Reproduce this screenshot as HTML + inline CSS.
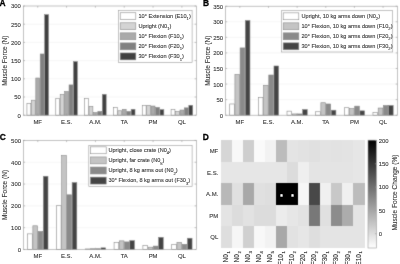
<!DOCTYPE html>
<html><head><meta charset="utf-8"><title>Figure</title>
<style>html,body{margin:0;padding:0;background:#fff;overflow:hidden}svg text{font-family:"Liberation Sans", sans-serif;stroke:#3c3c3c;stroke-width:0.12px}</style>
</head><body>
<svg width="400" height="264" viewBox="0 0 400 264" style="display:block">
<defs><filter id="soft" x="0" y="0" width="400" height="264" filterUnits="userSpaceOnUse" color-interpolation-filters="sRGB"><feConvolveMatrix order="3" kernelMatrix="0.02 0.08 0.02 0.08 0.60 0.08 0.02 0.08 0.02" edgeMode="duplicate" preserveAlpha="true"/></filter></defs>
<g filter="url(#soft)">
<rect x="-5" y="-5" width="410" height="274" fill="#fff"/>
<line x1="23.3" y1="97.00" x2="196.3" y2="97.00" stroke="#f0f0f0" stroke-width="0.6"/>
<line x1="23.3" y1="78.80" x2="196.3" y2="78.80" stroke="#f0f0f0" stroke-width="0.6"/>
<line x1="23.3" y1="60.60" x2="196.3" y2="60.60" stroke="#f0f0f0" stroke-width="0.6"/>
<line x1="23.3" y1="42.40" x2="196.3" y2="42.40" stroke="#f0f0f0" stroke-width="0.6"/>
<line x1="23.3" y1="24.20" x2="196.3" y2="24.20" stroke="#f0f0f0" stroke-width="0.6"/>
<rect x="26.93" y="103.49" width="3.84" height="11.71" fill="#ffffff" stroke="#8a8a8a" stroke-width="0.6"/>
<rect x="31.36" y="100.21" width="3.84" height="14.99" fill="#d4d4d4" stroke="#8a8a8a" stroke-width="0.6"/>
<rect x="35.80" y="78.01" width="3.84" height="37.19" fill="#aaaaaa" stroke="#8a8a8a" stroke-width="0.6"/>
<rect x="40.23" y="53.98" width="3.84" height="61.22" fill="#808080" stroke="#8a8a8a" stroke-width="0.6"/>
<rect x="44.67" y="14.67" width="3.84" height="100.53" fill="#404040" stroke="#8a8a8a" stroke-width="0.6"/>
<rect x="55.76" y="98.39" width="3.84" height="16.81" fill="#ffffff" stroke="#8a8a8a" stroke-width="0.6"/>
<rect x="60.20" y="94.39" width="3.84" height="20.81" fill="#d4d4d4" stroke="#8a8a8a" stroke-width="0.6"/>
<rect x="64.63" y="91.48" width="3.84" height="23.72" fill="#aaaaaa" stroke="#8a8a8a" stroke-width="0.6"/>
<rect x="69.07" y="84.92" width="3.84" height="30.28" fill="#808080" stroke="#8a8a8a" stroke-width="0.6"/>
<rect x="73.50" y="61.63" width="3.84" height="53.57" fill="#404040" stroke="#8a8a8a" stroke-width="0.6"/>
<rect x="84.59" y="98.39" width="3.84" height="16.81" fill="#ffffff" stroke="#8a8a8a" stroke-width="0.6"/>
<rect x="89.03" y="106.40" width="3.84" height="8.80" fill="#d4d4d4" stroke="#8a8a8a" stroke-width="0.6"/>
<rect x="93.47" y="112.59" width="3.84" height="2.61" fill="#aaaaaa" stroke="#8a8a8a" stroke-width="0.6"/>
<rect x="97.90" y="111.50" width="3.84" height="3.70" fill="#808080" stroke="#8a8a8a" stroke-width="0.6"/>
<rect x="102.34" y="94.39" width="3.84" height="20.81" fill="#404040" stroke="#8a8a8a" stroke-width="0.6"/>
<rect x="113.43" y="107.49" width="3.84" height="7.71" fill="#ffffff" stroke="#8a8a8a" stroke-width="0.6"/>
<rect x="117.86" y="110.77" width="3.84" height="4.43" fill="#d4d4d4" stroke="#8a8a8a" stroke-width="0.6"/>
<rect x="122.30" y="109.31" width="3.84" height="5.89" fill="#aaaaaa" stroke="#8a8a8a" stroke-width="0.6"/>
<rect x="126.73" y="111.50" width="3.84" height="3.70" fill="#808080" stroke="#8a8a8a" stroke-width="0.6"/>
<rect x="131.17" y="109.31" width="3.84" height="5.89" fill="#404040" stroke="#8a8a8a" stroke-width="0.6"/>
<rect x="142.26" y="105.67" width="3.84" height="9.53" fill="#ffffff" stroke="#8a8a8a" stroke-width="0.6"/>
<rect x="146.70" y="105.31" width="3.84" height="9.89" fill="#d4d4d4" stroke="#8a8a8a" stroke-width="0.6"/>
<rect x="151.13" y="106.04" width="3.84" height="9.16" fill="#aaaaaa" stroke="#8a8a8a" stroke-width="0.6"/>
<rect x="155.57" y="107.49" width="3.84" height="7.71" fill="#808080" stroke="#8a8a8a" stroke-width="0.6"/>
<rect x="160.00" y="109.68" width="3.84" height="5.52" fill="#404040" stroke="#8a8a8a" stroke-width="0.6"/>
<rect x="171.09" y="109.68" width="3.84" height="5.52" fill="#ffffff" stroke="#8a8a8a" stroke-width="0.6"/>
<rect x="175.53" y="111.50" width="3.84" height="3.70" fill="#d4d4d4" stroke="#8a8a8a" stroke-width="0.6"/>
<rect x="179.97" y="110.04" width="3.84" height="5.16" fill="#aaaaaa" stroke="#8a8a8a" stroke-width="0.6"/>
<rect x="184.40" y="107.86" width="3.84" height="7.34" fill="#808080" stroke="#8a8a8a" stroke-width="0.6"/>
<rect x="188.84" y="105.31" width="3.84" height="9.89" fill="#404040" stroke="#8a8a8a" stroke-width="0.6"/>
<rect x="23.3" y="6.0" width="173.0" height="109.2" fill="none" stroke="#9a9a9a" stroke-width="0.6"/>
<line x1="23.3" y1="115.20" x2="25.0" y2="115.20" stroke="#9a9a9a" stroke-width="0.6"/>
<line x1="196.3" y1="115.20" x2="194.60000000000002" y2="115.20" stroke="#9a9a9a" stroke-width="0.6"/>
<line x1="23.3" y1="97.00" x2="25.0" y2="97.00" stroke="#9a9a9a" stroke-width="0.6"/>
<line x1="196.3" y1="97.00" x2="194.60000000000002" y2="97.00" stroke="#9a9a9a" stroke-width="0.6"/>
<line x1="23.3" y1="78.80" x2="25.0" y2="78.80" stroke="#9a9a9a" stroke-width="0.6"/>
<line x1="196.3" y1="78.80" x2="194.60000000000002" y2="78.80" stroke="#9a9a9a" stroke-width="0.6"/>
<line x1="23.3" y1="60.60" x2="25.0" y2="60.60" stroke="#9a9a9a" stroke-width="0.6"/>
<line x1="196.3" y1="60.60" x2="194.60000000000002" y2="60.60" stroke="#9a9a9a" stroke-width="0.6"/>
<line x1="23.3" y1="42.40" x2="25.0" y2="42.40" stroke="#9a9a9a" stroke-width="0.6"/>
<line x1="196.3" y1="42.40" x2="194.60000000000002" y2="42.40" stroke="#9a9a9a" stroke-width="0.6"/>
<line x1="23.3" y1="24.20" x2="25.0" y2="24.20" stroke="#9a9a9a" stroke-width="0.6"/>
<line x1="196.3" y1="24.20" x2="194.60000000000002" y2="24.20" stroke="#9a9a9a" stroke-width="0.6"/>
<line x1="23.3" y1="6.00" x2="25.0" y2="6.00" stroke="#9a9a9a" stroke-width="0.6"/>
<line x1="196.3" y1="6.00" x2="194.60000000000002" y2="6.00" stroke="#9a9a9a" stroke-width="0.6"/>
<line x1="37.72" y1="115.2" x2="37.72" y2="113.5" stroke="#9a9a9a" stroke-width="0.6"/>
<line x1="37.72" y1="6.0" x2="37.72" y2="7.7" stroke="#9a9a9a" stroke-width="0.6"/>
<line x1="66.55" y1="115.2" x2="66.55" y2="113.5" stroke="#9a9a9a" stroke-width="0.6"/>
<line x1="66.55" y1="6.0" x2="66.55" y2="7.7" stroke="#9a9a9a" stroke-width="0.6"/>
<line x1="95.38" y1="115.2" x2="95.38" y2="113.5" stroke="#9a9a9a" stroke-width="0.6"/>
<line x1="95.38" y1="6.0" x2="95.38" y2="7.7" stroke="#9a9a9a" stroke-width="0.6"/>
<line x1="124.22" y1="115.2" x2="124.22" y2="113.5" stroke="#9a9a9a" stroke-width="0.6"/>
<line x1="124.22" y1="6.0" x2="124.22" y2="7.7" stroke="#9a9a9a" stroke-width="0.6"/>
<line x1="153.05" y1="115.2" x2="153.05" y2="113.5" stroke="#9a9a9a" stroke-width="0.6"/>
<line x1="153.05" y1="6.0" x2="153.05" y2="7.7" stroke="#9a9a9a" stroke-width="0.6"/>
<line x1="181.88" y1="115.2" x2="181.88" y2="113.5" stroke="#9a9a9a" stroke-width="0.6"/>
<line x1="181.88" y1="6.0" x2="181.88" y2="7.7" stroke="#9a9a9a" stroke-width="0.6"/>
<rect x="118.5" y="10.5" width="73.6" height="51.9" fill="#fff" stroke="#9c9c9c" stroke-width="0.6"/>
<rect x="120.2" y="12.75" width="15.60" height="6.9" fill="#ffffff" stroke="#8a8a8a" stroke-width="0.6"/>
<rect x="120.2" y="22.80" width="15.60" height="6.9" fill="#d4d4d4" stroke="#8a8a8a" stroke-width="0.6"/>
<rect x="120.2" y="32.85" width="15.60" height="6.9" fill="#aaaaaa" stroke="#8a8a8a" stroke-width="0.6"/>
<rect x="120.2" y="42.90" width="15.60" height="6.9" fill="#808080" stroke="#8a8a8a" stroke-width="0.6"/>
<rect x="120.2" y="52.95" width="15.60" height="6.9" fill="#404040" stroke="#8a8a8a" stroke-width="0.6"/>
<line x1="225.5" y1="99.63" x2="397.4" y2="99.63" stroke="#f0f0f0" stroke-width="0.6"/>
<line x1="225.5" y1="84.06" x2="397.4" y2="84.06" stroke="#f0f0f0" stroke-width="0.6"/>
<line x1="225.5" y1="68.49" x2="397.4" y2="68.49" stroke="#f0f0f0" stroke-width="0.6"/>
<line x1="225.5" y1="52.91" x2="397.4" y2="52.91" stroke="#f0f0f0" stroke-width="0.6"/>
<line x1="225.5" y1="37.34" x2="397.4" y2="37.34" stroke="#f0f0f0" stroke-width="0.6"/>
<line x1="225.5" y1="21.77" x2="397.4" y2="21.77" stroke="#f0f0f0" stroke-width="0.6"/>
<rect x="229.71" y="103.98" width="4.61" height="11.22" fill="#ffffff" stroke="#8a8a8a" stroke-width="0.6"/>
<rect x="234.92" y="74.39" width="4.61" height="40.81" fill="#c4c4c4" stroke="#8a8a8a" stroke-width="0.6"/>
<rect x="240.12" y="47.92" width="4.61" height="67.28" fill="#8a8a8a" stroke="#8a8a8a" stroke-width="0.6"/>
<rect x="245.33" y="20.51" width="4.61" height="94.69" fill="#444444" stroke="#8a8a8a" stroke-width="0.6"/>
<rect x="258.36" y="97.44" width="4.61" height="17.76" fill="#ffffff" stroke="#8a8a8a" stroke-width="0.6"/>
<rect x="263.57" y="85.29" width="4.61" height="29.91" fill="#c4c4c4" stroke="#8a8a8a" stroke-width="0.6"/>
<rect x="268.78" y="75.01" width="4.61" height="40.19" fill="#8a8a8a" stroke="#8a8a8a" stroke-width="0.6"/>
<rect x="273.98" y="65.98" width="4.61" height="49.22" fill="#444444" stroke="#8a8a8a" stroke-width="0.6"/>
<rect x="287.01" y="111.14" width="4.61" height="4.06" fill="#ffffff" stroke="#8a8a8a" stroke-width="0.6"/>
<rect x="292.22" y="113.94" width="4.61" height="1.26" fill="#c4c4c4" stroke="#8a8a8a" stroke-width="0.6"/>
<rect x="297.43" y="113.94" width="4.61" height="1.26" fill="#8a8a8a" stroke="#8a8a8a" stroke-width="0.6"/>
<rect x="302.63" y="109.58" width="4.61" height="5.62" fill="#444444" stroke="#8a8a8a" stroke-width="0.6"/>
<rect x="315.66" y="111.76" width="4.61" height="3.44" fill="#ffffff" stroke="#8a8a8a" stroke-width="0.6"/>
<rect x="320.87" y="102.73" width="4.61" height="12.47" fill="#c4c4c4" stroke="#8a8a8a" stroke-width="0.6"/>
<rect x="326.07" y="103.98" width="4.61" height="11.22" fill="#8a8a8a" stroke="#8a8a8a" stroke-width="0.6"/>
<rect x="331.28" y="110.21" width="4.61" height="4.99" fill="#444444" stroke="#8a8a8a" stroke-width="0.6"/>
<rect x="344.31" y="107.71" width="4.61" height="7.49" fill="#ffffff" stroke="#8a8a8a" stroke-width="0.6"/>
<rect x="349.52" y="108.65" width="4.61" height="6.55" fill="#c4c4c4" stroke="#8a8a8a" stroke-width="0.6"/>
<rect x="354.72" y="106.16" width="4.61" height="9.04" fill="#8a8a8a" stroke="#8a8a8a" stroke-width="0.6"/>
<rect x="359.93" y="110.83" width="4.61" height="4.37" fill="#444444" stroke="#8a8a8a" stroke-width="0.6"/>
<rect x="372.96" y="112.54" width="4.61" height="2.66" fill="#ffffff" stroke="#8a8a8a" stroke-width="0.6"/>
<rect x="378.17" y="108.03" width="4.61" height="7.17" fill="#c4c4c4" stroke="#8a8a8a" stroke-width="0.6"/>
<rect x="383.37" y="105.53" width="4.61" height="9.67" fill="#8a8a8a" stroke="#8a8a8a" stroke-width="0.6"/>
<rect x="388.58" y="105.53" width="4.61" height="9.67" fill="#444444" stroke="#8a8a8a" stroke-width="0.6"/>
<rect x="225.5" y="6.2" width="171.89999999999998" height="109.0" fill="none" stroke="#9a9a9a" stroke-width="0.6"/>
<line x1="225.5" y1="115.20" x2="227.2" y2="115.20" stroke="#9a9a9a" stroke-width="0.6"/>
<line x1="397.4" y1="115.20" x2="395.7" y2="115.20" stroke="#9a9a9a" stroke-width="0.6"/>
<line x1="225.5" y1="99.63" x2="227.2" y2="99.63" stroke="#9a9a9a" stroke-width="0.6"/>
<line x1="397.4" y1="99.63" x2="395.7" y2="99.63" stroke="#9a9a9a" stroke-width="0.6"/>
<line x1="225.5" y1="84.06" x2="227.2" y2="84.06" stroke="#9a9a9a" stroke-width="0.6"/>
<line x1="397.4" y1="84.06" x2="395.7" y2="84.06" stroke="#9a9a9a" stroke-width="0.6"/>
<line x1="225.5" y1="68.49" x2="227.2" y2="68.49" stroke="#9a9a9a" stroke-width="0.6"/>
<line x1="397.4" y1="68.49" x2="395.7" y2="68.49" stroke="#9a9a9a" stroke-width="0.6"/>
<line x1="225.5" y1="52.91" x2="227.2" y2="52.91" stroke="#9a9a9a" stroke-width="0.6"/>
<line x1="397.4" y1="52.91" x2="395.7" y2="52.91" stroke="#9a9a9a" stroke-width="0.6"/>
<line x1="225.5" y1="37.34" x2="227.2" y2="37.34" stroke="#9a9a9a" stroke-width="0.6"/>
<line x1="397.4" y1="37.34" x2="395.7" y2="37.34" stroke="#9a9a9a" stroke-width="0.6"/>
<line x1="225.5" y1="21.77" x2="227.2" y2="21.77" stroke="#9a9a9a" stroke-width="0.6"/>
<line x1="397.4" y1="21.77" x2="395.7" y2="21.77" stroke="#9a9a9a" stroke-width="0.6"/>
<line x1="225.5" y1="6.20" x2="227.2" y2="6.20" stroke="#9a9a9a" stroke-width="0.6"/>
<line x1="397.4" y1="6.20" x2="395.7" y2="6.20" stroke="#9a9a9a" stroke-width="0.6"/>
<line x1="239.82" y1="115.2" x2="239.82" y2="113.5" stroke="#9a9a9a" stroke-width="0.6"/>
<line x1="239.82" y1="6.2" x2="239.82" y2="7.9" stroke="#9a9a9a" stroke-width="0.6"/>
<line x1="268.48" y1="115.2" x2="268.48" y2="113.5" stroke="#9a9a9a" stroke-width="0.6"/>
<line x1="268.48" y1="6.2" x2="268.48" y2="7.9" stroke="#9a9a9a" stroke-width="0.6"/>
<line x1="297.12" y1="115.2" x2="297.12" y2="113.5" stroke="#9a9a9a" stroke-width="0.6"/>
<line x1="297.12" y1="6.2" x2="297.12" y2="7.9" stroke="#9a9a9a" stroke-width="0.6"/>
<line x1="325.77" y1="115.2" x2="325.77" y2="113.5" stroke="#9a9a9a" stroke-width="0.6"/>
<line x1="325.77" y1="6.2" x2="325.77" y2="7.9" stroke="#9a9a9a" stroke-width="0.6"/>
<line x1="354.42" y1="115.2" x2="354.42" y2="113.5" stroke="#9a9a9a" stroke-width="0.6"/>
<line x1="354.42" y1="6.2" x2="354.42" y2="7.9" stroke="#9a9a9a" stroke-width="0.6"/>
<line x1="383.07" y1="115.2" x2="383.07" y2="113.5" stroke="#9a9a9a" stroke-width="0.6"/>
<line x1="383.07" y1="6.2" x2="383.07" y2="7.9" stroke="#9a9a9a" stroke-width="0.6"/>
<rect x="281.5" y="10.7" width="111.19999999999999" height="41.3" fill="#fff" stroke="#9c9c9c" stroke-width="0.6"/>
<rect x="283.2" y="12.85" width="15.60" height="6.9" fill="#ffffff" stroke="#8a8a8a" stroke-width="0.6"/>
<rect x="283.2" y="22.85" width="15.60" height="6.9" fill="#c4c4c4" stroke="#8a8a8a" stroke-width="0.6"/>
<rect x="283.2" y="32.85" width="15.60" height="6.9" fill="#8a8a8a" stroke="#8a8a8a" stroke-width="0.6"/>
<rect x="283.2" y="42.85" width="15.60" height="6.9" fill="#444444" stroke="#8a8a8a" stroke-width="0.6"/>
<line x1="23.4" y1="227.68" x2="196.3" y2="227.68" stroke="#f0f0f0" stroke-width="0.6"/>
<line x1="23.4" y1="205.86" x2="196.3" y2="205.86" stroke="#f0f0f0" stroke-width="0.6"/>
<line x1="23.4" y1="184.04" x2="196.3" y2="184.04" stroke="#f0f0f0" stroke-width="0.6"/>
<line x1="23.4" y1="162.22" x2="196.3" y2="162.22" stroke="#f0f0f0" stroke-width="0.6"/>
<rect x="27.63" y="233.87" width="4.64" height="15.63" fill="#ffffff" stroke="#8a8a8a" stroke-width="0.6"/>
<rect x="32.87" y="225.80" width="4.64" height="23.70" fill="#c4c4c4" stroke="#8a8a8a" stroke-width="0.6"/>
<rect x="38.11" y="231.47" width="4.64" height="18.03" fill="#8a8a8a" stroke="#8a8a8a" stroke-width="0.6"/>
<rect x="43.35" y="176.27" width="4.64" height="73.23" fill="#444444" stroke="#8a8a8a" stroke-width="0.6"/>
<rect x="56.45" y="205.72" width="4.64" height="43.78" fill="#ffffff" stroke="#8a8a8a" stroke-width="0.6"/>
<rect x="61.69" y="155.54" width="4.64" height="93.96" fill="#c4c4c4" stroke="#8a8a8a" stroke-width="0.6"/>
<rect x="66.92" y="194.81" width="4.64" height="54.69" fill="#8a8a8a" stroke="#8a8a8a" stroke-width="0.6"/>
<rect x="72.16" y="182.59" width="4.64" height="66.91" fill="#444444" stroke="#8a8a8a" stroke-width="0.6"/>
<rect x="85.26" y="248.93" width="4.64" height="0.57" fill="#ffffff" stroke="#8a8a8a" stroke-width="0.6"/>
<rect x="90.50" y="248.71" width="4.64" height="0.79" fill="#c4c4c4" stroke="#8a8a8a" stroke-width="0.6"/>
<rect x="95.74" y="248.71" width="4.64" height="0.79" fill="#8a8a8a" stroke="#8a8a8a" stroke-width="0.6"/>
<rect x="100.98" y="247.84" width="4.64" height="1.66" fill="#444444" stroke="#8a8a8a" stroke-width="0.6"/>
<rect x="114.08" y="242.60" width="4.64" height="6.90" fill="#ffffff" stroke="#8a8a8a" stroke-width="0.6"/>
<rect x="119.32" y="240.85" width="4.64" height="8.65" fill="#c4c4c4" stroke="#8a8a8a" stroke-width="0.6"/>
<rect x="124.56" y="241.94" width="4.64" height="7.56" fill="#8a8a8a" stroke="#8a8a8a" stroke-width="0.6"/>
<rect x="129.80" y="240.64" width="4.64" height="8.86" fill="#444444" stroke="#8a8a8a" stroke-width="0.6"/>
<rect x="142.90" y="245.65" width="4.64" height="3.85" fill="#ffffff" stroke="#8a8a8a" stroke-width="0.6"/>
<rect x="148.14" y="247.18" width="4.64" height="2.32" fill="#c4c4c4" stroke="#8a8a8a" stroke-width="0.6"/>
<rect x="153.38" y="246.09" width="4.64" height="3.41" fill="#8a8a8a" stroke="#8a8a8a" stroke-width="0.6"/>
<rect x="158.61" y="237.36" width="4.64" height="12.14" fill="#444444" stroke="#8a8a8a" stroke-width="0.6"/>
<rect x="171.71" y="244.56" width="4.64" height="4.94" fill="#ffffff" stroke="#8a8a8a" stroke-width="0.6"/>
<rect x="176.95" y="242.38" width="4.64" height="7.12" fill="#c4c4c4" stroke="#8a8a8a" stroke-width="0.6"/>
<rect x="182.19" y="244.34" width="4.64" height="5.16" fill="#8a8a8a" stroke="#8a8a8a" stroke-width="0.6"/>
<rect x="187.43" y="238.24" width="4.64" height="11.26" fill="#444444" stroke="#8a8a8a" stroke-width="0.6"/>
<rect x="23.4" y="140.4" width="172.9" height="109.1" fill="none" stroke="#9a9a9a" stroke-width="0.6"/>
<line x1="23.4" y1="249.50" x2="25.099999999999998" y2="249.50" stroke="#9a9a9a" stroke-width="0.6"/>
<line x1="196.3" y1="249.50" x2="194.60000000000002" y2="249.50" stroke="#9a9a9a" stroke-width="0.6"/>
<line x1="23.4" y1="227.68" x2="25.099999999999998" y2="227.68" stroke="#9a9a9a" stroke-width="0.6"/>
<line x1="196.3" y1="227.68" x2="194.60000000000002" y2="227.68" stroke="#9a9a9a" stroke-width="0.6"/>
<line x1="23.4" y1="205.86" x2="25.099999999999998" y2="205.86" stroke="#9a9a9a" stroke-width="0.6"/>
<line x1="196.3" y1="205.86" x2="194.60000000000002" y2="205.86" stroke="#9a9a9a" stroke-width="0.6"/>
<line x1="23.4" y1="184.04" x2="25.099999999999998" y2="184.04" stroke="#9a9a9a" stroke-width="0.6"/>
<line x1="196.3" y1="184.04" x2="194.60000000000002" y2="184.04" stroke="#9a9a9a" stroke-width="0.6"/>
<line x1="23.4" y1="162.22" x2="25.099999999999998" y2="162.22" stroke="#9a9a9a" stroke-width="0.6"/>
<line x1="196.3" y1="162.22" x2="194.60000000000002" y2="162.22" stroke="#9a9a9a" stroke-width="0.6"/>
<line x1="23.4" y1="140.40" x2="25.099999999999998" y2="140.40" stroke="#9a9a9a" stroke-width="0.6"/>
<line x1="196.3" y1="140.40" x2="194.60000000000002" y2="140.40" stroke="#9a9a9a" stroke-width="0.6"/>
<line x1="37.81" y1="249.5" x2="37.81" y2="247.8" stroke="#9a9a9a" stroke-width="0.6"/>
<line x1="37.81" y1="140.4" x2="37.81" y2="142.1" stroke="#9a9a9a" stroke-width="0.6"/>
<line x1="66.62" y1="249.5" x2="66.62" y2="247.8" stroke="#9a9a9a" stroke-width="0.6"/>
<line x1="66.62" y1="140.4" x2="66.62" y2="142.1" stroke="#9a9a9a" stroke-width="0.6"/>
<line x1="95.44" y1="249.5" x2="95.44" y2="247.8" stroke="#9a9a9a" stroke-width="0.6"/>
<line x1="95.44" y1="140.4" x2="95.44" y2="142.1" stroke="#9a9a9a" stroke-width="0.6"/>
<line x1="124.26" y1="249.5" x2="124.26" y2="247.8" stroke="#9a9a9a" stroke-width="0.6"/>
<line x1="124.26" y1="140.4" x2="124.26" y2="142.1" stroke="#9a9a9a" stroke-width="0.6"/>
<line x1="153.08" y1="249.5" x2="153.08" y2="247.8" stroke="#9a9a9a" stroke-width="0.6"/>
<line x1="153.08" y1="140.4" x2="153.08" y2="142.1" stroke="#9a9a9a" stroke-width="0.6"/>
<line x1="181.89" y1="249.5" x2="181.89" y2="247.8" stroke="#9a9a9a" stroke-width="0.6"/>
<line x1="181.89" y1="140.4" x2="181.89" y2="142.1" stroke="#9a9a9a" stroke-width="0.6"/>
<rect x="88.8" y="145.3" width="103.3" height="41.099999999999994" fill="#fff" stroke="#9c9c9c" stroke-width="0.6"/>
<rect x="90.5" y="146.85" width="15.70" height="6.9" fill="#ffffff" stroke="#8a8a8a" stroke-width="0.6"/>
<rect x="90.5" y="156.95" width="15.70" height="6.9" fill="#c4c4c4" stroke="#8a8a8a" stroke-width="0.6"/>
<rect x="90.5" y="167.05" width="15.70" height="6.9" fill="#8a8a8a" stroke="#8a8a8a" stroke-width="0.6"/>
<rect x="90.5" y="177.15" width="15.70" height="6.9" fill="#444444" stroke="#8a8a8a" stroke-width="0.6"/>
<g shape-rendering="crispEdges">
<rect x="220.65" y="140.15" width="11.67" height="22.17" fill="rgb(214,214,214)"/>
<rect x="231.72" y="140.15" width="11.67" height="22.17" fill="rgb(248,248,248)"/>
<rect x="242.78" y="140.15" width="11.67" height="22.17" fill="rgb(206,206,206)"/>
<rect x="253.85" y="140.15" width="11.67" height="22.17" fill="rgb(250,250,250)"/>
<rect x="264.91" y="140.15" width="11.67" height="22.17" fill="rgb(242,242,242)"/>
<rect x="275.98" y="140.15" width="11.67" height="22.17" fill="rgb(188,188,188)"/>
<rect x="287.04" y="140.15" width="11.67" height="22.17" fill="rgb(228,228,228)"/>
<rect x="298.11" y="140.15" width="11.67" height="22.17" fill="rgb(226,226,226)"/>
<rect x="309.17" y="140.15" width="11.67" height="22.17" fill="rgb(224,224,224)"/>
<rect x="320.24" y="140.15" width="11.67" height="22.17" fill="rgb(227,227,227)"/>
<rect x="331.30" y="140.15" width="11.67" height="22.17" fill="rgb(226,226,226)"/>
<rect x="342.37" y="140.15" width="11.67" height="22.17" fill="rgb(227,227,227)"/>
<rect x="353.43" y="140.15" width="11.07" height="22.17" fill="rgb(230,230,230)"/>
<rect x="220.65" y="161.72" width="11.67" height="22.17" fill="rgb(230,230,230)"/>
<rect x="231.72" y="161.72" width="11.67" height="22.17" fill="rgb(230,230,230)"/>
<rect x="242.78" y="161.72" width="11.67" height="22.17" fill="rgb(230,230,230)"/>
<rect x="253.85" y="161.72" width="11.67" height="22.17" fill="rgb(230,230,230)"/>
<rect x="264.91" y="161.72" width="11.67" height="22.17" fill="rgb(230,230,230)"/>
<rect x="275.98" y="161.72" width="11.67" height="22.17" fill="rgb(230,230,230)"/>
<rect x="287.04" y="161.72" width="11.67" height="22.17" fill="rgb(220,220,220)"/>
<rect x="298.11" y="161.72" width="11.67" height="22.17" fill="rgb(239,239,239)"/>
<rect x="309.17" y="161.72" width="11.67" height="22.17" fill="rgb(228,228,228)"/>
<rect x="320.24" y="161.72" width="11.67" height="22.17" fill="rgb(228,228,228)"/>
<rect x="331.30" y="161.72" width="11.67" height="22.17" fill="rgb(228,228,228)"/>
<rect x="342.37" y="161.72" width="11.67" height="22.17" fill="rgb(228,228,228)"/>
<rect x="353.43" y="161.72" width="11.07" height="22.17" fill="rgb(230,230,230)"/>
<rect x="220.65" y="183.29" width="11.67" height="22.17" fill="rgb(184,184,184)"/>
<rect x="231.72" y="183.29" width="11.67" height="22.17" fill="rgb(224,224,224)"/>
<rect x="242.78" y="183.29" width="11.67" height="22.17" fill="rgb(168,168,168)"/>
<rect x="253.85" y="183.29" width="11.67" height="22.17" fill="rgb(224,224,224)"/>
<rect x="264.91" y="183.29" width="11.67" height="22.17" fill="rgb(222,222,222)"/>
<rect x="275.98" y="183.29" width="11.67" height="22.17" fill="rgb(0,0,0)"/>
<rect x="287.04" y="183.29" width="11.67" height="22.17" fill="rgb(0,0,0)"/>
<rect x="298.11" y="183.29" width="11.67" height="22.17" fill="rgb(246,246,246)"/>
<rect x="309.17" y="183.29" width="11.67" height="22.17" fill="rgb(72,72,72)"/>
<rect x="320.24" y="183.29" width="11.67" height="22.17" fill="rgb(240,240,240)"/>
<rect x="331.30" y="183.29" width="11.67" height="22.17" fill="rgb(200,200,200)"/>
<rect x="342.37" y="183.29" width="11.67" height="22.17" fill="rgb(240,240,240)"/>
<rect x="353.43" y="183.29" width="11.07" height="22.17" fill="rgb(188,188,188)"/>
<rect x="220.65" y="204.86" width="11.67" height="22.17" fill="rgb(228,228,228)"/>
<rect x="231.72" y="204.86" width="11.67" height="22.17" fill="rgb(220,220,220)"/>
<rect x="242.78" y="204.86" width="11.67" height="22.17" fill="rgb(226,226,226)"/>
<rect x="253.85" y="204.86" width="11.67" height="22.17" fill="rgb(220,220,220)"/>
<rect x="264.91" y="204.86" width="11.67" height="22.17" fill="rgb(220,220,220)"/>
<rect x="275.98" y="204.86" width="11.67" height="22.17" fill="rgb(236,236,236)"/>
<rect x="287.04" y="204.86" width="11.67" height="22.17" fill="rgb(230,230,230)"/>
<rect x="298.11" y="204.86" width="11.67" height="22.17" fill="rgb(226,226,226)"/>
<rect x="309.17" y="204.86" width="11.67" height="22.17" fill="rgb(120,120,120)"/>
<rect x="320.24" y="204.86" width="11.67" height="22.17" fill="rgb(224,224,224)"/>
<rect x="331.30" y="204.86" width="11.67" height="22.17" fill="rgb(140,140,140)"/>
<rect x="342.37" y="204.86" width="11.67" height="22.17" fill="rgb(172,172,172)"/>
<rect x="353.43" y="204.86" width="11.07" height="22.17" fill="rgb(228,228,228)"/>
<rect x="220.65" y="226.43" width="11.67" height="21.57" fill="rgb(222,222,222)"/>
<rect x="231.72" y="226.43" width="11.67" height="21.57" fill="rgb(246,246,246)"/>
<rect x="242.78" y="226.43" width="11.67" height="21.57" fill="rgb(208,208,208)"/>
<rect x="253.85" y="226.43" width="11.67" height="21.57" fill="rgb(248,248,248)"/>
<rect x="264.91" y="226.43" width="11.67" height="21.57" fill="rgb(242,242,242)"/>
<rect x="275.98" y="226.43" width="11.67" height="21.57" fill="rgb(168,168,168)"/>
<rect x="287.04" y="226.43" width="11.67" height="21.57" fill="rgb(226,226,226)"/>
<rect x="298.11" y="226.43" width="11.67" height="21.57" fill="rgb(230,230,230)"/>
<rect x="309.17" y="226.43" width="11.67" height="21.57" fill="rgb(222,222,222)"/>
<rect x="320.24" y="226.43" width="11.67" height="21.57" fill="rgb(228,228,228)"/>
<rect x="331.30" y="226.43" width="11.67" height="21.57" fill="rgb(228,228,228)"/>
<rect x="342.37" y="226.43" width="11.67" height="21.57" fill="rgb(228,228,228)"/>
<rect x="353.43" y="226.43" width="11.07" height="21.57" fill="rgb(228,228,228)"/>
</g>
<defs><linearGradient id="cb" x1="0" y1="0" x2="0" y2="1"><stop offset="0" stop-color="#000"/><stop offset="1" stop-color="#fff"/></linearGradient></defs>
<rect x="368.0" y="140.15" width="8.40" height="107.85" fill="url(#cb)" stroke="#9a9a9a" stroke-width="0.6"/>
<line x1="376.4" y1="233.70" x2="374.9" y2="233.70" stroke="#9a9a9a" stroke-width="0.6"/>
<line x1="376.4" y1="210.40" x2="374.9" y2="210.40" stroke="#9a9a9a" stroke-width="0.6"/>
<line x1="376.4" y1="187.10" x2="374.9" y2="187.10" stroke="#9a9a9a" stroke-width="0.6"/>
<line x1="376.4" y1="163.80" x2="374.9" y2="163.80" stroke="#9a9a9a" stroke-width="0.6"/>
<line x1="376.4" y1="140.50" x2="374.9" y2="140.50" stroke="#9a9a9a" stroke-width="0.6"/>
</g>
<g>
<text x="-0.4" y="5.5" font-size="8.4" font-weight="bold" fill="#000" style="stroke:#000;stroke-width:0.3px">A</text>
<text x="37.72" y="123.70" font-size="5.95" text-anchor="middle" fill="#3c3c3c">MF</text>
<text x="66.55" y="123.70" font-size="5.95" text-anchor="middle" fill="#3c3c3c">E.S.</text>
<text x="95.38" y="123.70" font-size="5.95" text-anchor="middle" fill="#3c3c3c">A.M.</text>
<text x="124.22" y="123.70" font-size="5.95" text-anchor="middle" fill="#3c3c3c">TA</text>
<text x="153.05" y="123.70" font-size="5.95" text-anchor="middle" fill="#3c3c3c">PM</text>
<text x="181.88" y="123.70" font-size="5.95" text-anchor="middle" fill="#3c3c3c">QL</text>
<text x="20.90" y="117.65" font-size="5.95" text-anchor="end" fill="#3c3c3c">0</text>
<text x="20.90" y="99.45" font-size="5.95" text-anchor="end" fill="#3c3c3c">50</text>
<text x="20.90" y="81.25" font-size="5.95" text-anchor="end" fill="#3c3c3c">100</text>
<text x="20.90" y="63.05" font-size="5.95" text-anchor="end" fill="#3c3c3c">150</text>
<text x="20.90" y="44.85" font-size="5.95" text-anchor="end" fill="#3c3c3c">200</text>
<text x="20.90" y="26.65" font-size="5.95" text-anchor="end" fill="#3c3c3c">250</text>
<text x="20.90" y="8.45" font-size="5.95" text-anchor="end" fill="#3c3c3c">300</text>
<text transform="translate(7.4,60.60) rotate(-90)" font-size="6.55" text-anchor="middle" fill="#3c3c3c">Muscle Force (N)</text>
<text x="138.4" y="17.60" font-size="5.63" fill="#3c3c3c">10° Extension (E10<tspan font-size="4.22" dy="2.7">1</tspan><tspan dy="-2.7">)</tspan></text>
<text x="138.4" y="27.65" font-size="5.63" fill="#3c3c3c">Upright (N0<tspan font-size="4.22" dy="2.7">1</tspan><tspan dy="-2.7">)</tspan></text>
<text x="138.4" y="37.70" font-size="5.63" fill="#3c3c3c">10° Flexion (F10<tspan font-size="4.22" dy="2.7">1</tspan><tspan dy="-2.7">)</tspan></text>
<text x="138.4" y="47.75" font-size="5.63" fill="#3c3c3c">20° Flexion (F20<tspan font-size="4.22" dy="2.7">1</tspan><tspan dy="-2.7">)</tspan></text>
<text x="138.4" y="57.80" font-size="5.63" fill="#3c3c3c">30° Flexion (F30<tspan font-size="4.22" dy="2.7">1</tspan><tspan dy="-2.7">)</tspan></text>
<text x="202.9" y="5.5" font-size="8.4" font-weight="bold" fill="#000" style="stroke:#000;stroke-width:0.3px">B</text>
<text x="239.82" y="123.70" font-size="5.95" text-anchor="middle" fill="#3c3c3c">MF</text>
<text x="268.48" y="123.70" font-size="5.95" text-anchor="middle" fill="#3c3c3c">E.S.</text>
<text x="297.12" y="123.70" font-size="5.95" text-anchor="middle" fill="#3c3c3c">A.M.</text>
<text x="325.77" y="123.70" font-size="5.95" text-anchor="middle" fill="#3c3c3c">TA</text>
<text x="354.42" y="123.70" font-size="5.95" text-anchor="middle" fill="#3c3c3c">PM</text>
<text x="383.07" y="123.70" font-size="5.95" text-anchor="middle" fill="#3c3c3c">QL</text>
<text x="223.10" y="117.65" font-size="5.95" text-anchor="end" fill="#3c3c3c">0</text>
<text x="223.10" y="102.08" font-size="5.95" text-anchor="end" fill="#3c3c3c">50</text>
<text x="223.10" y="86.51" font-size="5.95" text-anchor="end" fill="#3c3c3c">100</text>
<text x="223.10" y="70.94" font-size="5.95" text-anchor="end" fill="#3c3c3c">150</text>
<text x="223.10" y="55.36" font-size="5.95" text-anchor="end" fill="#3c3c3c">200</text>
<text x="223.10" y="39.79" font-size="5.95" text-anchor="end" fill="#3c3c3c">250</text>
<text x="223.10" y="24.22" font-size="5.95" text-anchor="end" fill="#3c3c3c">300</text>
<text x="223.10" y="8.65" font-size="5.95" text-anchor="end" fill="#3c3c3c">350</text>
<text transform="translate(210.2,60.70) rotate(-90)" font-size="6.55" text-anchor="middle" fill="#3c3c3c">Muscle Force (N)</text>
<text x="301.5" y="17.70" font-size="5.6" fill="#3c3c3c">Upright, 10 kg arms down (N0<tspan font-size="4.20" dy="2.7">2</tspan><tspan dy="-2.7">)</tspan></text>
<text x="301.5" y="27.70" font-size="5.6" fill="#3c3c3c">10° Flexion, 10 kg arms down (F10<tspan font-size="4.20" dy="2.7">2</tspan><tspan dy="-2.7">)</tspan></text>
<text x="301.5" y="37.70" font-size="5.6" fill="#3c3c3c">20° Flexion, 10 kg arms down (F20<tspan font-size="4.20" dy="2.7">2</tspan><tspan dy="-2.7">)</tspan></text>
<text x="301.5" y="47.70" font-size="5.6" fill="#3c3c3c">30° Flexion, 10 kg arms down (F30<tspan font-size="4.20" dy="2.7">2</tspan><tspan dy="-2.7">)</tspan></text>
<text x="-0.2" y="140.0" font-size="8.4" font-weight="bold" fill="#000" style="stroke:#000;stroke-width:0.3px">C</text>
<text x="37.81" y="258.00" font-size="5.95" text-anchor="middle" fill="#3c3c3c">MF</text>
<text x="66.62" y="258.00" font-size="5.95" text-anchor="middle" fill="#3c3c3c">E.S.</text>
<text x="95.44" y="258.00" font-size="5.95" text-anchor="middle" fill="#3c3c3c">A.M.</text>
<text x="124.26" y="258.00" font-size="5.95" text-anchor="middle" fill="#3c3c3c">TA</text>
<text x="153.08" y="258.00" font-size="5.95" text-anchor="middle" fill="#3c3c3c">PM</text>
<text x="181.89" y="258.00" font-size="5.95" text-anchor="middle" fill="#3c3c3c">QL</text>
<text x="21.00" y="251.95" font-size="5.95" text-anchor="end" fill="#3c3c3c">0</text>
<text x="21.00" y="230.13" font-size="5.95" text-anchor="end" fill="#3c3c3c">100</text>
<text x="21.00" y="208.31" font-size="5.95" text-anchor="end" fill="#3c3c3c">200</text>
<text x="21.00" y="186.49" font-size="5.95" text-anchor="end" fill="#3c3c3c">300</text>
<text x="21.00" y="164.67" font-size="5.95" text-anchor="end" fill="#3c3c3c">400</text>
<text x="21.00" y="142.85" font-size="5.95" text-anchor="end" fill="#3c3c3c">500</text>
<text transform="translate(7.4,194.95) rotate(-90)" font-size="6.55" text-anchor="middle" fill="#3c3c3c">Muscle Force (N)</text>
<text x="108.5" y="151.70" font-size="5.55" fill="#3c3c3c">Upright, close crate (N0<tspan font-size="4.16" dy="2.7">4</tspan><tspan dy="-2.7">)</tspan></text>
<text x="108.5" y="161.80" font-size="5.55" fill="#3c3c3c">Upright, far crate (N0<tspan font-size="4.16" dy="2.7">5</tspan><tspan dy="-2.7">)</tspan></text>
<text x="108.5" y="171.90" font-size="5.55" fill="#3c3c3c">Upright, 8 kg arms out (N0<tspan font-size="4.16" dy="2.7">2</tspan><tspan dy="-2.7">)</tspan></text>
<text x="108.5" y="182.00" font-size="5.55" fill="#3c3c3c">30° Flexion, 8 kg arms out (F30<tspan font-size="4.16" dy="2.7">3</tspan><tspan dy="-2.7">)</tspan></text>
<text x="202.7" y="140.0" font-size="8.4" font-weight="bold" fill="#000" style="stroke:#000;stroke-width:0.3px">D</text>
<text x="218.25" y="152.99" font-size="5.95" text-anchor="end" fill="#3c3c3c">MF</text>
<text x="218.25" y="174.56" font-size="5.95" text-anchor="end" fill="#3c3c3c">E.S.</text>
<text x="218.25" y="196.12" font-size="5.95" text-anchor="end" fill="#3c3c3c">A.M.</text>
<text x="218.25" y="217.70" font-size="5.95" text-anchor="end" fill="#3c3c3c">PM</text>
<text x="218.25" y="239.27" font-size="5.95" text-anchor="end" fill="#3c3c3c">QL</text>
<text transform="translate(227.78,251.20) rotate(-90) scale(1,1.04)" font-size="6.6" text-anchor="end" fill="#3c3c3c" style="stroke-width:0.15px">N0<tspan font-size="4.2" dx="0.5" dy="1.8">1</tspan></text>
<text transform="translate(238.85,251.20) rotate(-90) scale(1,1.04)" font-size="6.6" text-anchor="end" fill="#3c3c3c" style="stroke-width:0.15px">N0<tspan font-size="4.2" dx="0.5" dy="1.8">2</tspan></text>
<text transform="translate(249.91,251.20) rotate(-90) scale(1,1.04)" font-size="6.6" text-anchor="end" fill="#3c3c3c" style="stroke-width:0.15px">N0<tspan font-size="4.2" dx="0.5" dy="1.8">3</tspan></text>
<text transform="translate(260.98,251.20) rotate(-90) scale(1,1.04)" font-size="6.6" text-anchor="end" fill="#3c3c3c" style="stroke-width:0.15px">N0<tspan font-size="4.2" dx="0.5" dy="1.8">4</tspan></text>
<text transform="translate(272.04,251.20) rotate(-90) scale(1,1.04)" font-size="6.6" text-anchor="end" fill="#3c3c3c" style="stroke-width:0.15px">N0<tspan font-size="4.2" dx="0.5" dy="1.8">5</tspan></text>
<text transform="translate(283.11,251.20) rotate(-90) scale(1,1.04)" font-size="6.6" text-anchor="end" fill="#3c3c3c" style="stroke-width:0.15px">F10<tspan font-size="4.2" dx="0.5" dy="1.8">1</tspan></text>
<text transform="translate(294.18,251.20) rotate(-90) scale(1,1.04)" font-size="6.6" text-anchor="end" fill="#3c3c3c" style="stroke-width:0.15px">F10<tspan font-size="4.2" dx="0.5" dy="1.8">2</tspan></text>
<text transform="translate(305.24,251.20) rotate(-90) scale(1,1.04)" font-size="6.6" text-anchor="end" fill="#3c3c3c" style="stroke-width:0.15px">F20<tspan font-size="4.2" dx="0.5" dy="1.8">1</tspan></text>
<text transform="translate(316.31,251.20) rotate(-90) scale(1,1.04)" font-size="6.6" text-anchor="end" fill="#3c3c3c" style="stroke-width:0.15px">F20<tspan font-size="4.2" dx="0.5" dy="1.8">2</tspan></text>
<text transform="translate(327.37,251.20) rotate(-90) scale(1,1.04)" font-size="6.6" text-anchor="end" fill="#3c3c3c" style="stroke-width:0.15px">F30<tspan font-size="4.2" dx="0.5" dy="1.8">1</tspan></text>
<text transform="translate(338.44,251.20) rotate(-90) scale(1,1.04)" font-size="6.6" text-anchor="end" fill="#3c3c3c" style="stroke-width:0.15px">F30<tspan font-size="4.2" dx="0.5" dy="1.8">2</tspan></text>
<text transform="translate(349.50,251.20) rotate(-90) scale(1,1.04)" font-size="6.6" text-anchor="end" fill="#3c3c3c" style="stroke-width:0.15px">F30<tspan font-size="4.2" dx="0.5" dy="1.8">3</tspan></text>
<text transform="translate(360.57,251.20) rotate(-90) scale(1,1.04)" font-size="6.6" text-anchor="end" fill="#3c3c3c" style="stroke-width:0.15px">E10<tspan font-size="4.2" dx="0.5" dy="1.8">1</tspan></text>
<text x="281.51" y="198.77" font-size="6.5" font-weight="bold" text-anchor="middle" fill="#fff" style="stroke:#fff;stroke-width:0.2px">*</text>
<text x="292.57" y="198.77" font-size="6.5" font-weight="bold" text-anchor="middle" fill="#fff" style="stroke:#fff;stroke-width:0.2px">*</text>
<text x="378.70" y="236.00" font-size="5.95" fill="#3c3c3c">0</text>
<text x="378.70" y="212.70" font-size="5.95" fill="#3c3c3c">50</text>
<text x="378.70" y="189.40" font-size="5.95" fill="#3c3c3c">100</text>
<text x="378.70" y="166.10" font-size="5.95" fill="#3c3c3c">150</text>
<text x="378.70" y="142.80" font-size="5.95" fill="#3c3c3c">200</text>
<text transform="translate(396.8,192.57) rotate(-90)" font-size="6.55" text-anchor="middle" fill="#3c3c3c">Muscle Force Change (%)</text>
</g>
</svg>
</body></html>
